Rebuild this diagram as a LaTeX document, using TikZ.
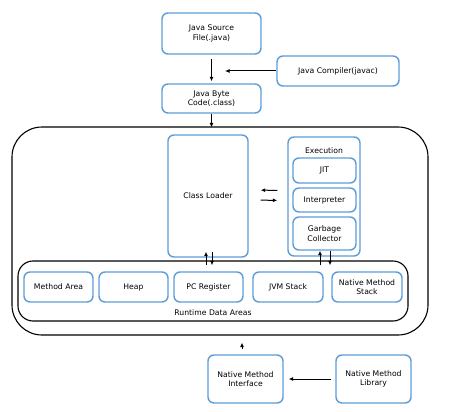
\documentclass[tikz,border=0pt]{standalone}
\usepackage{xcolor}
\usepackage{fontspec}
\setmainfont{DejaVu Sans}
\usepackage{tikz}
\usetikzlibrary{arrows.meta}

\definecolor{jvmblue}{RGB}{92,157,216}
\tikzset{
  blk/.style={rectangle,rounded corners=6pt,draw=jvmblue,line width=1.4pt,align=center,inner sep=1pt},
  frame/.style={rectangle,draw=black,line width=1.1pt},
  arr/.style={-{Latex[length=4.5pt,width=4pt]},line width=1pt}
}

\begin{document}
\begin{tikzpicture}[x=1pt,y=-1pt,font=\fontsize{7.7}{9.4}\selectfont]
\useasboundingbox (0,0) rectangle (474,412);

\node at (211.5,33.5) [blk,minimum width=99pt,minimum height=41pt] (src) {Java Source\\File(.java)};
\node at (338,71)     [blk,minimum width=122pt,minimum height=30pt] (javac) {Java Compiler(javac)};
\node at (211.5,98.5) [blk,minimum width=99pt,minimum height=29pt] (byte) {Java Byte\\Code(.class)};
\coordinate (cin) at (225,71);

\node at (220,231) [frame,rounded corners=30pt,minimum width=416pt,minimum height=208pt] (jvm) {};
\node at (208,196) [blk,minimum width=80pt,minimum height=122pt] (loader) {Class Loader};
\node at (324,196.5) [blk,minimum width=72pt,minimum height=119pt] (exec) {};
\node at (324,151) (execlbl) {Execution};
\node at (324.5,170.5) [blk,minimum width=63pt,minimum height=25pt] (jit) {JIT};
\node at (324.5,200)   [blk,minimum width=63pt,minimum height=24pt] (interp) {Interpreter};
\node at (324.5,233.5) [blk,minimum width=63pt,minimum height=33pt] (gc) {Garbage\\Collector};

\node at (213,291) [frame,rounded corners=15pt,minimum width=390pt,minimum height=60pt] (rda) {};
\node at (58.5,287)  [blk,minimum width=69pt,minimum height=30pt] (method) {Method Area};
\node at (133.5,287) [blk,minimum width=69pt,minimum height=30pt] (heap) {Heap};
\node at (208.5,287) [blk,minimum width=69pt,minimum height=30pt] (pcreg) {PC Register};
\node at (288,287)   [blk,minimum width=70pt,minimum height=30pt] (jstack) {JVM Stack};
\node at (367,287)   [blk,minimum width=70pt,minimum height=30pt] (nstack) {Native Method\\Stack};
\node at (213,313) (rdalbl) {Runtime Data Areas};

\node at (245.5,379) [blk,minimum width=75pt,minimum height=48pt] (nmi) {Native Method\\Interface};
\node at (373.5,379) [blk,minimum width=75pt,minimum height=48pt] (nml) {Native Method\\Library};

\draw [arr,shorten <=4pt,shorten >=2pt] (src) -- (byte);
\draw [arr] (javac) -- (cin);
\draw [arr,shorten >=-1pt] (byte.south) -- (byte.south |- jvm.north);

\draw [arr,shorten <=10pt,shorten >=12pt] ([yshift=6pt]exec.west) -- ([yshift=6pt]loader.east);
\draw [arr,shorten <=12pt,shorten >=10pt] ([yshift=-4pt]loader.east) -- ([yshift=-4pt]exec.west);

\draw [arr,shorten <=6pt,shorten >=-6pt] ([xshift=-2pt]loader.south |- pcreg.north) -- ([xshift=-2pt]loader.south);
\draw [arr,shorten <=-6pt,shorten >=6pt] ([xshift=4pt]loader.south) -- ([xshift=4pt]loader.south |- pcreg.north);
\draw [arr,shorten <=6pt,shorten >=-6pt] ([xshift=-4pt]exec.south |- jstack.north) -- ([xshift=-4pt]exec.south);
\draw [arr,shorten <=-6pt,shorten >=6pt] ([xshift=6pt]exec.south) -- ([xshift=6pt]exec.south |- jstack.north);

\draw [arr,shorten <=5pt,shorten >=7pt] ([xshift=-3.5pt]nmi.north) -- ([xshift=-3.5pt]nmi.north |- jvm.south);
\draw [arr,shorten <=4pt,shorten >=5pt] (nml) -- (nmi);
\end{tikzpicture}
\end{document}
